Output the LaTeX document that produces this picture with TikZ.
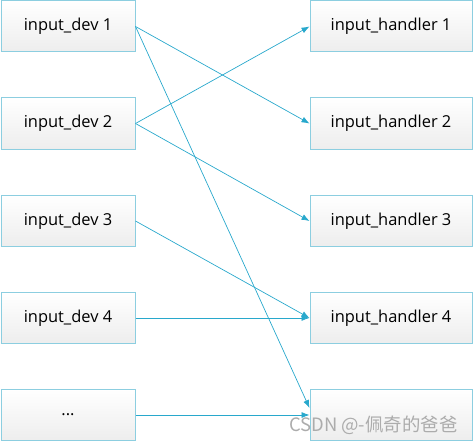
\documentclass[tikz,border=0pt]{standalone}
\usepackage{fontspec}
\setmainfont{Open Sans}
\newfontfamily\cjk{Noto Sans CJK SC}
\usetikzlibrary{arrows.meta}
\definecolor{boxline}{RGB}{140,206,224}
\definecolor{arrowline}{RGB}{40,168,204}

\begin{document}
\begin{tikzpicture}[x=1bp,y=-1bp,
    devbox/.style={draw=boxline, line width=1pt, top color=white, bottom color=gray!14,
      minimum width=134bp, minimum height=51bp, inner sep=0pt, font=\fontsize{16.5}{19}\selectfont},
    handbox/.style={devbox, minimum width=162bp},
    link/.style={draw=arrowline, line width=0.7pt, -{Latex[length=8pt,width=6pt]}}]
        \useasboundingbox (0,0) rectangle (474,444);

        % Linke Spalte
        \node[devbox] (dev1) at (68,26.5) {input\_dev 1};
        \node[devbox] (dev2) at (68,123.5) {input\_dev 2};
        \node[devbox] (dev3) at (68,221) {input\_dev 3};
        \node[devbox] (dev4) at (68,318) {input\_dev 4};
        \node[devbox] (dev5) at (68,415) {...};

        % Rechte Spalte
        \node[handbox] (hand1) at (391,26.5) {input\_handler 1};
        \node[handbox] (hand2) at (391,123.5) {input\_handler 2};
        \node[handbox] (hand3) at (391,221) {input\_handler 3};
        \node[handbox] (hand4) at (391,318) {input\_handler 4};
        \node[handbox] (hand5) at (391,415) {};

        \draw[link] (dev1.east) -- (hand2.west);
        \draw[link] (dev1.east) -- ([yshift=7bp]hand5.west);
        \draw[link] (dev2.east) -- (hand1.west);
        \draw[link] (dev2.east) -- (hand3.west);
        \draw[link] (dev3.east) -- (hand4.west);
        \draw[link] (dev4.east) -- (hand4.west);
        \draw[link] (dev5.east) -- (hand5.west);

        \node[text=gray!65, font=\cjk\fontsize{18.5}{21}\selectfont, anchor=east] (mark) at (461,425) {CSDN @-佩奇的爸爸};
\end{tikzpicture}
\end{document}
